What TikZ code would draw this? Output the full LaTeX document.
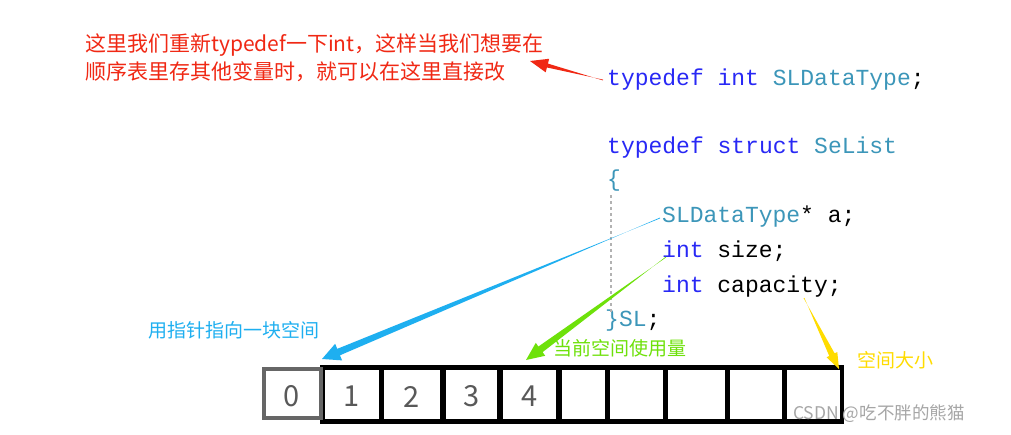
\documentclass[tikz,border=0pt]{standalone}
\usepackage{fontspec}
\newfontfamily\cjk{Noto Sans CJK SC}
\setmonofont{Liberation Mono}
\usetikzlibrary{calc}
\definecolor{kw}{RGB}{40,40,245}
\definecolor{ty}{RGB}{60,150,185}
\definecolor{cred}{RGB}{240,40,20}
\definecolor{cblue}{RGB}{30,175,240}
\definecolor{cgreen}{RGB}{110,225,10}
\definecolor{cyel}{RGB}{255,220,0}
\tikzset{
  code/.style={anchor=base west,inner sep=0pt,font=\ttfamily\fontsize{23}{23}\selectfont},
  lab/.style={anchor=base west,inner sep=0pt,font=\cjk\fontsize{19}{19}\selectfont},
  cell/.style={draw=none,fill=white},
  dig/.style={font=\cjk\fontsize{29}{29}\selectfont,text=black!65}
}
\newcommand{\taper}[6]{%
  \fill[#3] ($(#1)!0.4pt!90:(#2)$) -- ($($(#2)!#5!(#1)$)!#4!-90:(#2)$) --
     ($($(#2)!#5!(#1)$)!#6!-90:(#2)$) -- (#2) --
     ($($(#2)!#5!(#1)$)!#6!90:(#2)$) -- ($($(#2)!#5!(#1)$)!#4!90:(#2)$) --
     ($(#1)!0.4pt!-90:(#2)$) -- cycle;}
\begin{document}
\begin{tikzpicture}[x=1pt,y=-1pt]
\useasboundingbox[fill=white] (0,0) rectangle (1011,434);
% code
\node[code] (l1) at (607,85) {\textcolor{kw}{typedef int} \textcolor{ty}{SLDataType};};
\node[code] (l2) at (607,153) {\textcolor{kw}{typedef struct} \textcolor{ty}{SeList}};
\node[code] (l3) at (607,186) {\textcolor{ty}{\{}};
\node[code] (l4) at (662,222) {\textcolor{ty}{SLDataType}* a;};
\node[code] (l5) at (662,257) {\textcolor{kw}{int} size;};
\node[code] (l6) at (662,292) {\textcolor{kw}{int} capacity;};
\node[code] (l7) at (605,326) {\textcolor{ty}{\}SL};};
\draw[black!30,dashed,line width=1.2pt] (611,195) -- (611,315);
% red note
\node[lab,text=cred,font=\cjk\fontsize{21}{21}\selectfont] (n1) at (85,51) {这里我们重新typedef一下int，这样当我们想要在};
\node[lab,text=cred,font=\cjk\fontsize{21}{21}\selectfont] (n2) at (85,79) {顺序表里存其他变量时，就可以在这里直接改};
\coordinate (rs) at (603,80); \coordinate (rt) at (530,61);
\taper{rs}{rt}{cred}{2pt}{18pt}{7pt}
% array
\fill[black] (320,365) rectangle (844,424);
\fill[black!60] (262,367) rectangle (323,420);
\fill[white] (266,371) rectangle (319,416);
\foreach \a/\b/\n in {325/379/1,384/440/2,446/497/3,503/556/4,562/605/,610/663/,668/725/,730/782/,787/840/}
  \fill[white] (\a,370) rectangle (\b,419) node[dig,midway,yshift=-2pt] (c\a) {\n};
\node[dig] (c0) at (292,396) {0};
% blue
\coordinate (bs) at (660,218); \coordinate (bt) at (322,359);
\taper{bs}{bt}{cblue}{3.5pt}{18pt}{9pt}
\node[lab,text=cblue] (lb) at (148,337) {用指针指向一块空间};
% green
\coordinate (gs) at (666,257); \coordinate (gt) at (526,360);
\taper{gs}{gt}{cgreen}{3.5pt}{18pt}{8pt}
\node[lab,text=cgreen] (lg) at (553,355) {当前空间使用量};
% yellow
\coordinate (ys) at (804,298); \coordinate (yt) at (839,369);
\taper{ys}{yt}{cyel}{3pt}{16pt}{6pt}
\node[lab,text=cyel] (ly) at (857,367) {空间大小};
% watermark
\node[lab,text=black!35,font=\cjk\fontsize{17.5}{17.5}\selectfont] (wm) at (793,419) {CSDN @吃不胖的熊猫};
\end{tikzpicture}
\end{document}
